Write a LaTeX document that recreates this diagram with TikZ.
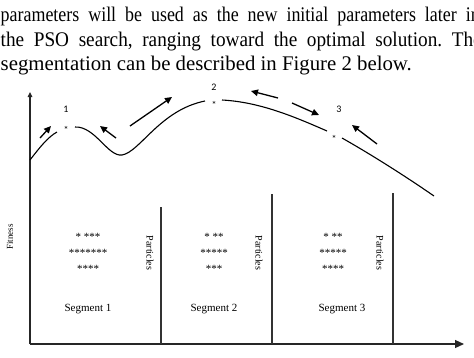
\documentclass[tikz,border=0pt]{standalone}
\usepackage{graphicx}
\usepackage{fontspec}
\setmainfont{Liberation Serif}
\newfontfamily\numfont{Carlito}
\usetikzlibrary{arrows.meta}
\tikzset{
  bodytext/.style={anchor=base west, inner sep=0pt, font=\fontsize{20.8}{24}\selectfont},
  axis/.style={line width=1.1pt, draw=black!85},
  divider/.style={line width=1.1pt, draw=black!80},
  fitcurve/.style={line width=1.1pt},
  move/.style={line width=1.3pt, -{Triangle[length=7pt,width=6.5pt]}},
  stars/.style={inner sep=0pt, font=\fontsize{11}{11}\selectfont},
  seglabel/.style={inner sep=0pt, font=\fontsize{11}{11}\selectfont},
  partlabel/.style={inner sep=0pt, rotate=-90, font=\fontsize{10}{10}\selectfont},
  ptlabel/.style={inner sep=0pt, font=\numfont\fontsize{10}{10}\selectfont},
  ptstar/.style={inner sep=0pt, font=\numfont\fontsize{10}{10}\selectfont}
}
\begin{document}
\begin{tikzpicture}[x=1pt,y=-1pt]
\useasboundingbox (0,0) rectangle (474,357);
\clip (0,0) rectangle (474,357);
\fill[white] (0,0) rectangle (474,357);

% paragraph text
\node[bodytext] (l1) at (0.5,21) {\resizebox{479pt}{\height}{parameters\ \ will\ \ be\ \ used\ \ as\ \ the\ \ new\ \ initial\ \ parameters\ \ later\ \ in}};
\node[bodytext] (l2) at (0.5,46.5) {\resizebox{481pt}{\height}{the\ \ PSO\ \ search,\ \ ranging\ \ toward\ \ the\ \ optimal\ \ solution.\ \ The}};
\node[bodytext] (l3) at (0.5,70.5) {segmentation can be described in Figure 2 below.};

% axes
\coordinate (origin) at (30,344);
\coordinate (ytip) at (30,92);
\coordinate (xtip) at (464,344);
\draw[axis, -{Triangle[length=5pt,width=4.5pt]}] (origin) -- (ytip);
\draw[axis, -{Triangle[length=9pt,width=8pt]}] (origin) -- (xtip);

% dividers
\coordinate (d1t) at (161,207); \coordinate (d1b) at (161,344);
\coordinate (d2t) at (272,194); \coordinate (d2b) at (272,344);
\coordinate (d3t) at (393,193); \coordinate (d3b) at (393,344);
\draw[divider] (d1t) -- (d1b);
\draw[divider] (d2t) -- (d2b);
\draw[divider] (d3t) -- (d3b);

% fitness curve
\draw[fitcurve] (30,160) .. controls (40,147) and (48,137) .. (57,132);
\draw[fitcurve] (75,127) .. controls (95,126) and (108,157) .. (122,155)
                .. controls (140,152) and (160,110) .. (205,101);
\draw[fitcurve] (222,100) .. controls (260,102) and (295,117) .. (327,131);
\draw[fitcurve] (342,138) .. controls (372,155) and (405,176) .. (434,196);

% points on curve
\node[ptstar] (p1) at (66,130) {*};
\node[ptstar] (p2) at (214,105) {*};
\node[ptstar] (p3) at (334,139) {*};
\node[ptlabel] (n1) at (66,109) {1};
\node[ptlabel] (n2) at (214,87) {2};
\node[ptlabel] (n3) at (339,109) {3};

% movement arrows
\coordinate (a1s) at (40,138); \coordinate (a1e) at (51,126);
\coordinate (a2s) at (116,138); \coordinate (a2e) at (100,126);
\coordinate (a3s) at (130,126); \coordinate (a3e) at (172,97);
\coordinate (a4s) at (278,98); \coordinate (a4e) at (251,91);
\coordinate (a5s) at (292,103); \coordinate (a5e) at (319,115);
\coordinate (a6s) at (377,144); \coordinate (a6e) at (352,125);
\draw[move] (a1s) -- (a1e);
\draw[move] (a2s) -- (a2e);
\draw[move] (a3s) -- (a3e);
\draw[move] (a4s) -- (a4e);
\draw[move] (a5s) -- (a5e);
\draw[move] (a6s) -- (a6e);

% labels
\node[inner sep=0pt, rotate=90, font=\fontsize{9}{9}\selectfont] (fit) at (10,237) {Fitness};
\node[partlabel] (pa1) at (150,253) {Particles};
\node[partlabel] (pa2) at (259,253) {Particles};
\node[partlabel] (pa3) at (380,253) {Particles};

% particle swarms
\node[stars] (s11) at (88,237) {* ***};
\node[stars] (s12) at (88,253) {*******};
\node[stars] (s13) at (88,269) {****};
\node[stars] (s21) at (214,237) {* **};
\node[stars] (s22) at (214,253) {*****};
\node[stars] (s23) at (214,269) {***};
\node[stars] (s31) at (333,237) {* **};
\node[stars] (s32) at (333,253) {*****};
\node[stars] (s33) at (333,269) {****};

\node[seglabel] (g1) at (88,309) {Segment 1};
\node[seglabel] (g2) at (214,309) {Segment 2};
\node[seglabel] (g3) at (342,309) {Segment 3};
\end{tikzpicture}
\end{document}
